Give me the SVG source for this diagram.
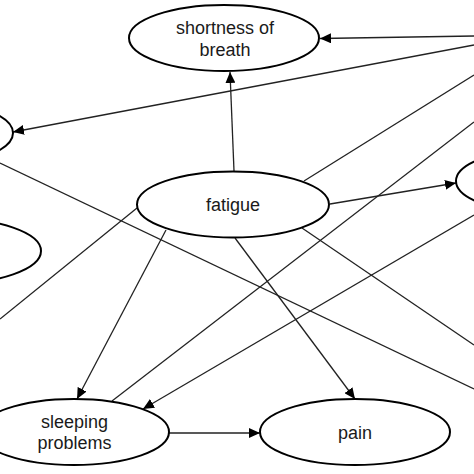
<svg xmlns="http://www.w3.org/2000/svg" width="474" height="474" viewBox="0 0 474 474">
<style>
.node ellipse{fill:#fff;stroke:#000;stroke-width:2}
.node text{font-family:"Liberation Sans",Arial,sans-serif;font-size:18px;fill:#1a1a1a;text-anchor:middle}
#connectors line{stroke:#222;stroke-width:1.3;fill:none}
.arr{marker-end:url(#ah)}
</style>
<defs>
<marker id="ah" markerUnits="userSpaceOnUse" markerWidth="12" markerHeight="10" refX="11" refY="5" orient="auto">
<path d="M0,0 L11,5 L0,10 z" fill="#000"/>
</marker>
</defs>
<rect width="474" height="474" fill="#fff"/>
<g id="connectors">
<line class="arr" x1="234" y1="171" x2="230" y2="72"/>
<line class="arr" x1="474" y1="36" x2="320" y2="38.5"/>
<line class="arr" x1="474" y1="45" x2="13" y2="132"/>
<line x1="474" y1="75" x2="304" y2="181"/>
<line x1="474" y1="122" x2="112" y2="401"/>
<line class="arr" x1="474" y1="215" x2="143" y2="409"/>
<line x1="0" y1="163" x2="474" y2="389"/>
<line x1="302" y1="228" x2="474" y2="345"/>
<line x1="137" y1="208" x2="0" y2="319"/>
<line class="arr" x1="330" y1="204" x2="456" y2="183"/>
<line class="arr" x1="166" y1="230" x2="77" y2="399"/>
<line class="arr" x1="235" y1="238" x2="355" y2="399"/>
<line class="arr" x1="169" y1="433" x2="260" y2="433"/>
</g>
<g id="node-shortness" class="node">
<ellipse cx="224" cy="38" rx="95" ry="33"/>
<text x="225" y="34">shortness of</text>
<text x="225" y="56">breath</text>
</g>
<g id="node-fatigue" class="node">
<ellipse cx="233" cy="204.5" rx="96" ry="33"/>
<text x="233" y="211">fatigue</text>
</g>
<g id="node-left-top" class="node">
<ellipse cx="-82" cy="133" rx="95" ry="33"/>
</g>
<g id="node-left-mid" class="node">
<ellipse cx="-54" cy="251" rx="95" ry="33"/>
</g>
<g id="node-right" class="node">
<ellipse cx="551" cy="181" rx="95" ry="33"/>
</g>
<g id="node-sleeping" class="node">
<ellipse cx="74" cy="432" rx="95" ry="33"/>
<text x="74.5" y="428">sleeping</text>
<text x="74.5" y="449">problems</text>
</g>
<g id="node-pain" class="node">
<ellipse cx="355" cy="432" rx="95" ry="33"/>
<text x="355" y="439">pain</text>
</g>
</svg>
